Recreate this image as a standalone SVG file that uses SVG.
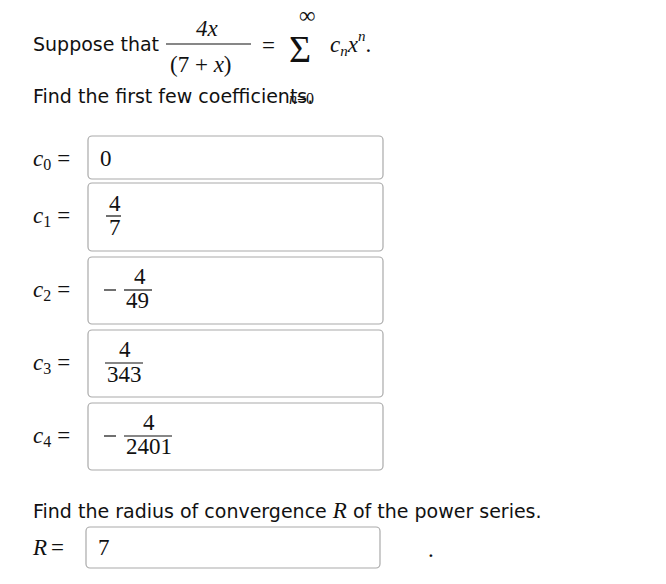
<svg xmlns="http://www.w3.org/2000/svg" width="666" height="584" viewBox="0 0 666 584">
<style>
.t{font-family:"DejaVu Sans","Liberation Sans",sans-serif;font-size:19px;fill:#111}
.m{font-family:"Liberation Serif",serif;font-size:23px;fill:#111}
.i{font-style:italic}
.box{fill:#fff;stroke:#aaa;stroke-width:1.2}
.bar{stroke:#111;stroke-width:1.2}
</style>
<rect width="666" height="584" fill="#fff"/>
<text class="t" x="33" y="51">Suppose that</text>
<text class="m i" x="196" y="36">4x</text>
<line class="bar" x1="166" y1="44" x2="251" y2="44"/>
<text class="m" x="170" y="72">(7 + <tspan class="i">x</tspan>)</text>
<text class="m" x="262" y="53">=</text>
<text class="m" x="299" y="23" font-size="17">∞</text>
<text x="289" y="62" style="font-family:'Liberation Serif',serif;font-size:38px;fill:#111">Σ</text>
<text class="m i" x="289" y="104" style="font-size:16px">n<tspan font-style="normal">=0</tspan></text>
<text class="m i" x="330" y="52">c<tspan font-size="15" dy="4">n</tspan><tspan dy="-4">x</tspan><tspan font-size="15" dy="-11">n</tspan><tspan dy="11" font-style="normal">.</tspan></text>
<text class="t" x="33" y="103">Find the first few coefficients.</text>

<g id="c0"><text class="m i" x="33" y="166">c<tspan font-size="16" font-style="normal" dy="4">0</tspan><tspan dy="-4" font-style="normal" dx="6">=</tspan></text>
<rect class="box" x="88" y="136" width="295" height="43" rx="4"/>
<text class="m" x="100" y="166">0</text></g>
<g id="c1"><text class="m i" x="33" y="223">c<tspan font-size="16" font-style="normal" dy="4">1</tspan><tspan dy="-4" font-style="normal" dx="6">=</tspan></text>
<rect class="box" x="88" y="183" width="295" height="68" rx="4"/>
<text class="m" x="109" y="211" font-size="17">4</text><line class="bar" x1="106" y1="216" x2="121" y2="216"/><text class="m" x="109" y="235" font-size="17">7</text></g>
<g id="c2"><text class="m i" x="33" y="297">c<tspan font-size="16" font-style="normal" dy="4">2</tspan><tspan dy="-4" font-style="normal" dx="6">=</tspan></text>
<rect class="box" x="88" y="257" width="295" height="67" rx="4"/>
<line class="bar" x1="104" y1="290" x2="116" y2="290"/>
<text class="m" x="134" y="284" font-size="17">4</text><line class="bar" x1="124" y1="290" x2="152" y2="290"/><text class="m" x="126" y="308" font-size="17">49</text></g>
<g id="c3"><text class="m i" x="33" y="370">c<tspan font-size="16" font-style="normal" dy="4">3</tspan><tspan dy="-4" font-style="normal" dx="6">=</tspan></text>
<rect class="box" x="88" y="330" width="295" height="67" rx="4"/>
<text class="m" x="119" y="357" font-size="17">4</text><line class="bar" x1="105" y1="363" x2="143" y2="363"/><text class="m" x="107" y="382" font-size="17">343</text></g>
<g id="c4"><text class="m i" x="33" y="443">c<tspan font-size="16" font-style="normal" dy="4">4</tspan><tspan dy="-4" font-style="normal" dx="6">=</tspan></text>
<rect class="box" x="88" y="403" width="295" height="67" rx="4"/>
<line class="bar" x1="104" y1="436" x2="116" y2="436"/>
<text class="m" x="143" y="430" font-size="17">4</text><line class="bar" x1="124" y1="436" x2="172" y2="436"/><text class="m" x="126" y="454" font-size="17">2401</text></g>

<text class="t" x="33" y="518">Find the radius of convergence <tspan class="m i">R</tspan> of the power series.</text>
<g id="R"><text class="m i" x="33" y="555">R<tspan font-style="normal" dx="4">=</tspan></text>
<rect class="box" x="86" y="527" width="294" height="41" rx="4"/>
<text class="m" x="98" y="555">7</text>
<text class="m" x="428" y="557">.</text></g>
</svg>
